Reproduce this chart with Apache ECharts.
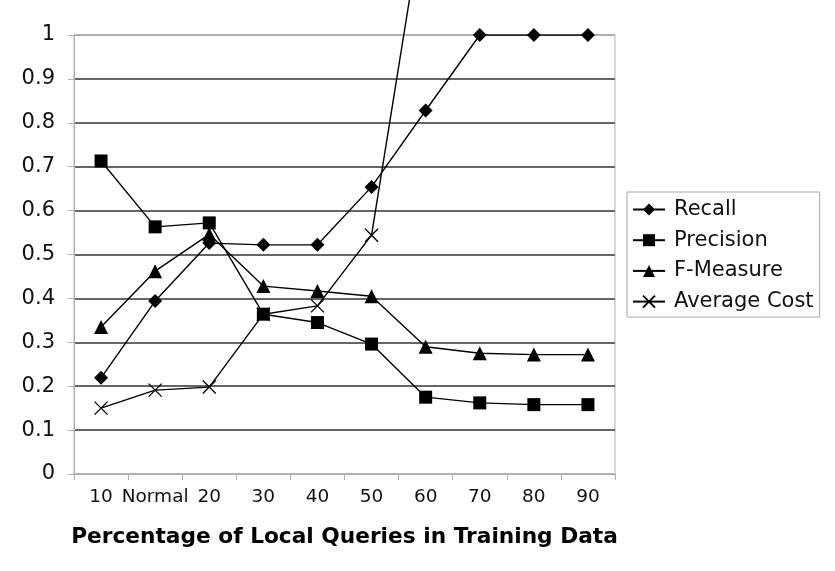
<!DOCTYPE html>
<html>
<head>
<meta charset="utf-8">
<script src="https://cdn.jsdelivr.net/npm/echarts@6/dist/echarts.min.js"></script>
<style>
  html, body { margin: 0; padding: 0; background: #fff; }
  #chart { width: 835px; height: 571px; }
</style>
</head>
<body>
<div id="chart"></div>
<script>
// 横轴类别
const categories = ['10', 'Normal', '20', '30', '40', '50', '60', '70', '80', '90']

// 各序列数值
const recall = [0.219, 0.394, 0.526, 0.522, 0.522, 0.654, 0.828, 1.0, 1.0, 1.0]
const precision = [0.713, 0.563, 0.572, 0.364, 0.345, 0.296, 0.175, 0.162, 0.158, 0.158]
const fMeasure = [0.335, 0.462, 0.546, 0.428, 0.417, 0.405, 0.290, 0.275, 0.272, 0.272]
// 60 以后超出图表顶部，读不出具体值
const averageCost = [0.150, 0.191, 0.198, 0.364, 0.383, 0.544, 1.31, null, null, null]

const font = 'DejaVu Sans, Verdana, sans-serif'

const chart = echarts.init(document.getElementById('chart'))

// 折线公共样式
const lineSeries = (name, data, symbol, size, extra) => Object.assign({
  name,
  type: 'line',
  data,
  symbol,
  symbolSize: size,
  color: '#000',
  lineStyle: { color: '#000', width: 1.4 },
  itemStyle: { color: '#000' },
  animation: false
}, extra || {})

const crossPath = 'path://M0,0L10,10M10,0L0,10'

chart.setOption({
  backgroundColor: '#fff',
  textStyle: { fontFamily: font },
  grid: {
    left: 74,
    right: 220,
    top: 35,
    bottom: 97,
    show: true,
    borderColor: '#b0b0b0',
    borderWidth: 1
  },
  legend: {
    orient: 'vertical',
    left: 627,
    top: 192,
    padding: [7, 6, 5, 5],
    itemWidth: 32,
    itemHeight: 15,
    itemGap: 9.7,
    borderColor: '#a8a8a8',
    borderWidth: 1,
    backgroundColor: '#fff',
    textStyle: { fontFamily: font, fontSize: 21, color: '#111', padding: [0, 0, 0, 4] },
    data: ['Recall', 'Precision', 'F-Measure', 'Average Cost']
  },
  xAxis: {
    type: 'category',
    data: categories,
    boundaryGap: true,
    name: 'Percentage of Local Queries in Training Data',
    nameLocation: 'middle',
    nameGap: 52,
    nameTextStyle: { fontFamily: font, fontSize: 21.7, fontWeight: 'bold', color: '#000' },
    axisLine: { lineStyle: { color: '#b0b0b0', width: 1 } },
    axisTick: { show: true, length: 6, lineStyle: { color: '#b0b0b0' } },
    axisLabel: { interval: 0, margin: 14, fontSize: 18.5, color: '#111', fontFamily: font }
  },
  yAxis: {
    type: 'value',
    min: 0,
    max: 1,
    interval: 0.1,
    axisLine: { show: true, lineStyle: { color: '#b0b0b0', width: 1 } },
    axisTick: { show: true, length: 6, lineStyle: { color: '#b0b0b0' } },
    axisLabel: {
      margin: 19,
      fontSize: 21,
      color: '#111',
      fontFamily: font,
      formatter: (v) => (v === 0 || v === 1) ? String(v) : v.toFixed(1)
    },
    splitLine: {
      show: true,
      lineStyle: {
        color: ['#b0b0b0', '#666', '#666', '#666', '#666', '#666', '#666', '#666', '#666', '#666', '#b0b0b0'],
        width: 1.8
      }
    }
  },
  series: [
    lineSeries('Recall', recall, 'diamond', 14),
    lineSeries('Precision', precision, 'rect', 13),
    lineSeries('F-Measure', fMeasure, 'triangle', 14),
    lineSeries('Average Cost', averageCost, crossPath, 13, {
      clip: false,
      itemStyle: { color: 'none', borderColor: '#000', borderWidth: 1.3 }
    })
  ]
})
</script>
</body>
</html>
